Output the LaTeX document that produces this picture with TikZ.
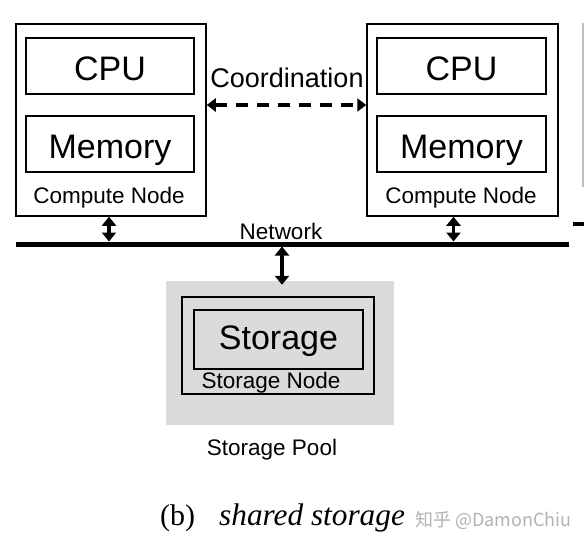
\documentclass[tikz,border=0pt]{standalone}
\usepackage{fontspec}
\setmainfont{Liberation Serif}
\setsansfont{Liberation Sans}
\newfontfamily\cjkfont{Noto Sans CJK SC}
\usetikzlibrary{arrows.meta, positioning}

\begin{document}
\begin{tikzpicture}[x=1pt, y=-1pt,
		unit/.style={draw, line width=1.5pt, inner sep=0pt, text height=29.5pt, text depth=0pt, font=\sffamily\fontsize{34}{40}\selectfont},
		outer/.style={draw, line width=1.5pt, inner sep=0pt},
		smalltext/.style={anchor=base, inner sep=0pt, font=\sffamily\fontsize{22.5}{26}\selectfont},
		link/.style={line width=3.4pt, {Triangle[length=9pt, width=14pt]}-{Triangle[length=9pt, width=14pt]}}]
		\useasboundingbox (0,0) rectangle (584,546);
		% left compute node
		\node[outer, minimum width=190pt, minimum height=192pt] (cnL) at (111, 120) {};
		\node[unit, minimum width=168pt, minimum height=56pt] (cpuL) at (110, 66) {CPU};
		\node[unit, minimum width=168pt, minimum height=56pt] (memL) at (110, 144) {Memory};
		\node[smalltext] (cnLtext) at (109, 203) {Compute Node};
		% right compute node
		\node[outer, minimum width=191pt, minimum height=192pt] (cnR) at (462.5, 120) {};
		\node[unit, minimum width=169pt, minimum height=56pt] (cpuR) at (461.5, 66) {CPU};
		\node[unit, minimum width=169pt, minimum height=56pt] (memR) at (461.5, 144) {Memory};
		\node[smalltext] (cnRtext) at (461, 203) {Compute Node};
		% coordination
		\node[smalltext, font=\sffamily\fontsize{27}{30}\selectfont] (coord) at (287, 87) {Coordination};
		\draw[line width=3.2pt, dash pattern=on 12pt off 9pt, {Triangle[length=9pt, width=13pt]}-{Triangle[length=9pt, width=13pt]}]
			([yshift=15pt]cnL.east) -- ([yshift=15pt]cnR.west);
		% network
		\coordinate (netW) at (16, 244);
		\coordinate (netE) at (569, 244);
		\draw[line width=5pt] (netW) -- (netE);
		\node[smalltext] (net) at (281, 239) {Network};
		\draw[link] ([xshift=-2pt]cnL.south) -- ([xshift=-2pt, yshift=2.5pt]cnL.south |- netW);
		\draw[link] ([xshift=-9pt]cnR.south) -- ([xshift=-9pt, yshift=2.5pt]cnR.south |- netW);
		% storage pool
		\node[fill=black!14, minimum width=228pt, minimum height=144pt, inner sep=0pt] (pool) at (280, 353) {};
		\node[outer, minimum width=192pt, minimum height=97pt] (snode) at (278, 345.5) {};
		\node[unit, text height=20.5pt, minimum width=169pt, minimum height=59pt] (stor) at (278.5, 339.5) {Storage};
		\node[smalltext] (sntext) at (271, 388) {Storage Node};
		\node[smalltext] (pooltext) at (272, 455) {Storage Pool};
		\draw[link] ([xshift=2pt, yshift=-2.5pt]pool.north |- netW) -- ([xshift=2pt, yshift=-4pt]pool.north);
		% caption
		\node[anchor=base west, inner sep=0pt, font=\fontsize{30}{34}\selectfont] (capb) at (160, 525) {(b)};
		\node[anchor=base west, inner sep=0pt, font=\itshape\fontsize{31.3}{34}\selectfont] (capt) at (219, 525) {shared storage};
		\node[anchor=base west, inner sep=0pt, text=black!30, font=\cjkfont\fontsize{18}{20}\selectfont] (mark) at (415, 526) {知乎 @DamonChiu};
		% cut-off pieces at the right edge
		\draw[line width=1.5pt, black!25] (583, 23) -- (583, 187);
		\draw[line width=4pt] (573, 224) -- (584, 224);
	\end{tikzpicture}
\end{document}
